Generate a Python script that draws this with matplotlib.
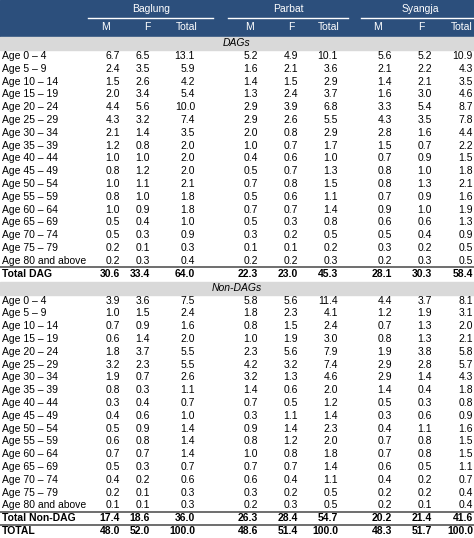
import matplotlib.pyplot as plt
from matplotlib.patches import Rectangle

plt.rcParams['font.family'] = ['Liberation Sans', 'DejaVu Sans']

districts = ['Baglung', 'Parbat', 'Syangja']
subcols = ['M', 'F', 'Total']
ages = ['Age 0 \u2013 4', 'Age 5 \u2013 9', 'Age 10 \u2013 14', 'Age 15 \u2013 19', 'Age 20 \u2013 24',
        'Age 25 \u2013 29', 'Age 30 \u2013 34', 'Age 35 \u2013 39', 'Age 40 \u2013 44', 'Age 45 \u2013 49',
        'Age 50 \u2013 54', 'Age 55 \u2013 59', 'Age 60 \u2013 64', 'Age 65 \u2013 69', 'Age 70 \u2013 74',
        'Age 75 \u2013 79', 'Age 80 and above']

dag = [
    [6.7, 6.5, 13.1, 5.2, 4.9, 10.1, 5.6, 5.2, 10.9],
    [2.4, 3.5, 5.9, 1.6, 2.1, 3.6, 2.1, 2.2, 4.3],
    [1.5, 2.6, 4.2, 1.4, 1.5, 2.9, 1.4, 2.1, 3.5],
    [2.0, 3.4, 5.4, 1.3, 2.4, 3.7, 1.6, 3.0, 4.6],
    [4.4, 5.6, 10.0, 2.9, 3.9, 6.8, 3.3, 5.4, 8.7],
    [4.3, 3.2, 7.4, 2.9, 2.6, 5.5, 4.3, 3.5, 7.8],
    [2.1, 1.4, 3.5, 2.0, 0.8, 2.9, 2.8, 1.6, 4.4],
    [1.2, 0.8, 2.0, 1.0, 0.7, 1.7, 1.5, 0.7, 2.2],
    [1.0, 1.0, 2.0, 0.4, 0.6, 1.0, 0.7, 0.9, 1.5],
    [0.8, 1.2, 2.0, 0.5, 0.7, 1.3, 0.8, 1.0, 1.8],
    [1.0, 1.1, 2.1, 0.7, 0.8, 1.5, 0.8, 1.3, 2.1],
    [0.8, 1.0, 1.8, 0.5, 0.6, 1.1, 0.7, 0.9, 1.6],
    [1.0, 0.9, 1.8, 0.7, 0.7, 1.4, 0.9, 1.0, 1.9],
    [0.5, 0.4, 1.0, 0.5, 0.3, 0.8, 0.6, 0.6, 1.3],
    [0.5, 0.3, 0.9, 0.3, 0.2, 0.5, 0.5, 0.4, 0.9],
    [0.2, 0.1, 0.3, 0.1, 0.1, 0.2, 0.3, 0.2, 0.5],
    [0.2, 0.3, 0.4, 0.2, 0.2, 0.3, 0.2, 0.3, 0.5],
]
total_dag = [30.6, 33.4, 64.0, 22.3, 23.0, 45.3, 28.1, 30.3, 58.4]

nondag = [
    [3.9, 3.6, 7.5, 5.8, 5.6, 11.4, 4.4, 3.7, 8.1],
    [1.0, 1.5, 2.4, 1.8, 2.3, 4.1, 1.2, 1.9, 3.1],
    [0.7, 0.9, 1.6, 0.8, 1.5, 2.4, 0.7, 1.3, 2.0],
    [0.6, 1.4, 2.0, 1.0, 1.9, 3.0, 0.8, 1.3, 2.1],
    [1.8, 3.7, 5.5, 2.3, 5.6, 7.9, 1.9, 3.8, 5.8],
    [3.2, 2.3, 5.5, 4.2, 3.2, 7.4, 2.9, 2.8, 5.7],
    [1.9, 0.7, 2.6, 3.2, 1.3, 4.6, 2.9, 1.4, 4.3],
    [0.8, 0.3, 1.1, 1.4, 0.6, 2.0, 1.4, 0.4, 1.8],
    [0.3, 0.4, 0.7, 0.7, 0.5, 1.2, 0.5, 0.3, 0.8],
    [0.4, 0.6, 1.0, 0.3, 1.1, 1.4, 0.3, 0.6, 0.9],
    [0.5, 0.9, 1.4, 0.9, 1.4, 2.3, 0.4, 1.1, 1.6],
    [0.6, 0.8, 1.4, 0.8, 1.2, 2.0, 0.7, 0.8, 1.5],
    [0.7, 0.7, 1.4, 1.0, 0.8, 1.8, 0.7, 0.8, 1.5],
    [0.5, 0.3, 0.7, 0.7, 0.7, 1.4, 0.6, 0.5, 1.1],
    [0.4, 0.2, 0.6, 0.6, 0.4, 1.1, 0.4, 0.2, 0.7],
    [0.2, 0.1, 0.3, 0.3, 0.2, 0.5, 0.2, 0.2, 0.4],
    [0.1, 0.1, 0.3, 0.2, 0.3, 0.5, 0.2, 0.1, 0.4],
]
total_nondag = [17.4, 18.6, 36.0, 26.3, 28.4, 54.7, 20.2, 21.4, 41.6]
grand_total = [48.0, 52.0, 100.0, 48.6, 51.4, 100.0, 48.3, 51.7, 100.0]

W, H = 474, 538
fig = plt.figure(figsize=(W / 100, H / 100), dpi=100)
ax = fig.add_axes([0, 0, 1, 1])
ax.set_xlim(0, W)
ax.set_ylim(H, 0)
ax.axis('off')

blue = '#2c4f7c'
grey = '#d9d9d9'
fs = 7.5
num_x = [120, 150, 195, 258, 298, 338, 392, 432, 473]
hdr_x = [106, 147, 187, 250, 291, 329, 378, 421, 462]
grp_x = [151, 288, 420]
grp_span = [(88, 213), (228, 348), (361, 474)]
step = 12.8

# header
ax.add_patch(Rectangle((0, 0), W, 36, color=blue))
for name, cx, (a, b) in zip(districts, grp_x, grp_span):
    ax.text(cx, 9, name, color='white', ha='center', va='center', fontsize=fs)
    ax.plot([a, b], [18, 18], color='white', lw=1)
for i, x in enumerate(hdr_x):
    ax.text(x, 27, subcols[i % 3], color='white', ha='center', va='center', fontsize=fs)


def section(title, y0, rows, total_label, totals):
    ax.add_patch(Rectangle((0, y0), W, 13, color=grey))
    ax.text(W / 2, y0 + 6.5, title, ha='center', va='center', fontsize=fs, style='italic')
    y = y0 + 19
    for lab, vals in zip(ages, rows):
        ax.text(2, y, lab, ha='left', va='center', fontsize=fs)
        for x, v in zip(num_x, vals):
            ax.text(x, y, '%.1f' % v, ha='right', va='center', fontsize=fs)
        y += step
    ax.plot([0, W], [y - 6.5, y - 6.5], color='#555555', lw=1.2)
    ax.text(2, y, total_label, ha='left', va='center', fontsize=fs, weight='bold')
    for x, v in zip(num_x, totals):
        ax.text(x, y, '%.1f' % v, ha='right', va='center', fontsize=fs, weight='bold')
    return y


y = section('DAGs', 37, dag, 'Total DAG', total_dag)
y = section('Non-DAGs', y + 8, nondag, 'Total Non-DAG', total_nondag)
y += step
ax.plot([0, W], [y - 6.5, y - 6.5], color='#555555', lw=1.2)
ax.text(2, y, 'TOTAL', ha='left', va='center', fontsize=fs, weight='bold')
for x, v in zip(num_x, grand_total):
    ax.text(x, y, '%.1f' % v, ha='right', va='center', fontsize=fs, weight='bold')

fig.savefig('out.png', dpi=100)
